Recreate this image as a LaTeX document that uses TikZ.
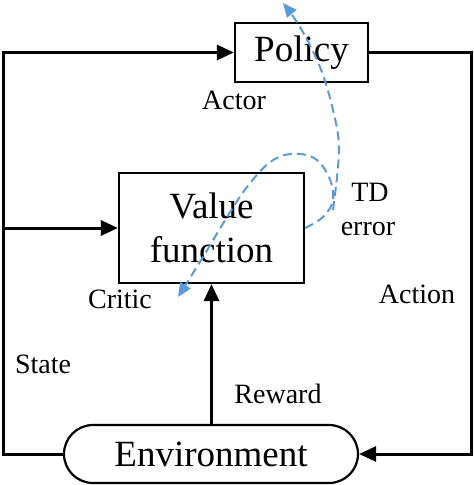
\documentclass[tikz,border=0pt]{standalone}
\usepackage{fontspec}
\setmainfont{Liberation Serif}
\usetikzlibrary{arrows.meta}
\definecolor{tdblue}{RGB}{91,155,213}
\begin{document}
\begin{tikzpicture}[x=1pt,y=-1pt,
  box/.style={draw=black, line width=2.2pt, inner sep=0pt, font=\fontsize{37}{44}\selectfont, align=center},
  lbl/.style={font=\fontsize{28}{34}\selectfont, anchor=base, inner sep=0pt},
  flow/.style={line width=3pt, -{Triangle[length=17pt,width=15pt]}},
  td/.style={tdblue, line width=2pt, dash pattern=on 9pt off 5pt, -{Triangle[length=14pt,width=12pt]}}]
\useasboundingbox (0,0) rectangle (474,485);
\node[box, minimum width=133pt, minimum height=59pt] (policy) at (301.5,52.5) {Policy};
\node[box, minimum width=185pt, minimum height=110pt] (value) at (211.5,228) {Value\\function};
\node[box, minimum width=294pt, minimum height=58pt, rounded corners=29pt] (env) at (211,454) {Environment};
\coordinate (bl) at (3,454);
\coordinate (ml) at (3,228);
\coordinate (tr) at (471,52.5);
\draw[flow] (env.west) -- (bl) |- (policy.west);
\draw[flow] (ml) -- (value.west);
\draw[flow] (policy.east) -- (tr) |- (env.east);
\draw[flow] (env.north -| value.south) -- (value.south);
\draw[td] plot[smooth, tension=0.6] coordinates {(value.east) (323,217) (333,200) (329,177) (314,158) (290,154) (269,163) (247,187) (227,217) (203,257) (178,297)};
\draw[td] plot[smooth, tension=0.6] coordinates {(333,210) (339,150) (333,110) (320,67) (300,27) (283,3)};
\node[lbl] (actor) at (234,109) {Actor};
\node[lbl] (tdl) at (370,201) {TD};
\node[lbl] (err) at (368,235) {error};
\node[lbl] (critic) at (120,308) {Critic};
\node[lbl] (action) at (417,303) {Action};
\node[lbl] (state) at (43,373) {State};
\node[lbl] (reward) at (278,403) {Reward};
\end{tikzpicture}
\end{document}
